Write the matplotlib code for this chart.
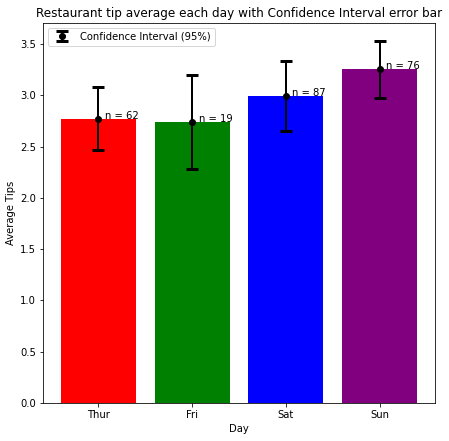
import matplotlib
matplotlib.use('Agg')
import matplotlib.pyplot as plt

# tips dataset summary per day
days = ['Thur', 'Fri', 'Sat', 'Sun']
avg_tip = [2.771, 2.735, 2.993, 3.255]
ci_half = [0.309, 0.458, 0.343, 0.278]
counts = [62, 19, 87, 76]
colors = ['red', 'green', 'blue', 'purple']

fig = plt.figure(figsize=(449/72, 441/72), dpi=72)
ax = fig.add_axes([43/449, 1 - 403/441, (435-43)/449, (403-22.5)/441])

x = list(range(len(days)))
ax.bar(x, avg_tip, color=colors)
ax.errorbar(x, avg_tip, yerr=ci_half, fmt='o', color='black', markersize=6,
            elinewidth=2, capsize=6, capthick=3, label='Confidence Interval (95%)')

for i in x:
    ax.text(i + 0.07, avg_tip[i], 'n = %d' % counts[i], fontsize=10)

ax.set_xticks(x)
ax.set_xticklabels(days)
ax.set_xlabel('Day')
ax.set_ylabel('Average Tips')
ax.set_title('Restaurant tip average each day with Confidence Interval error bar', fontsize=12)
ax.legend(loc='upper left')

fig.savefig('out.png', dpi=72)
